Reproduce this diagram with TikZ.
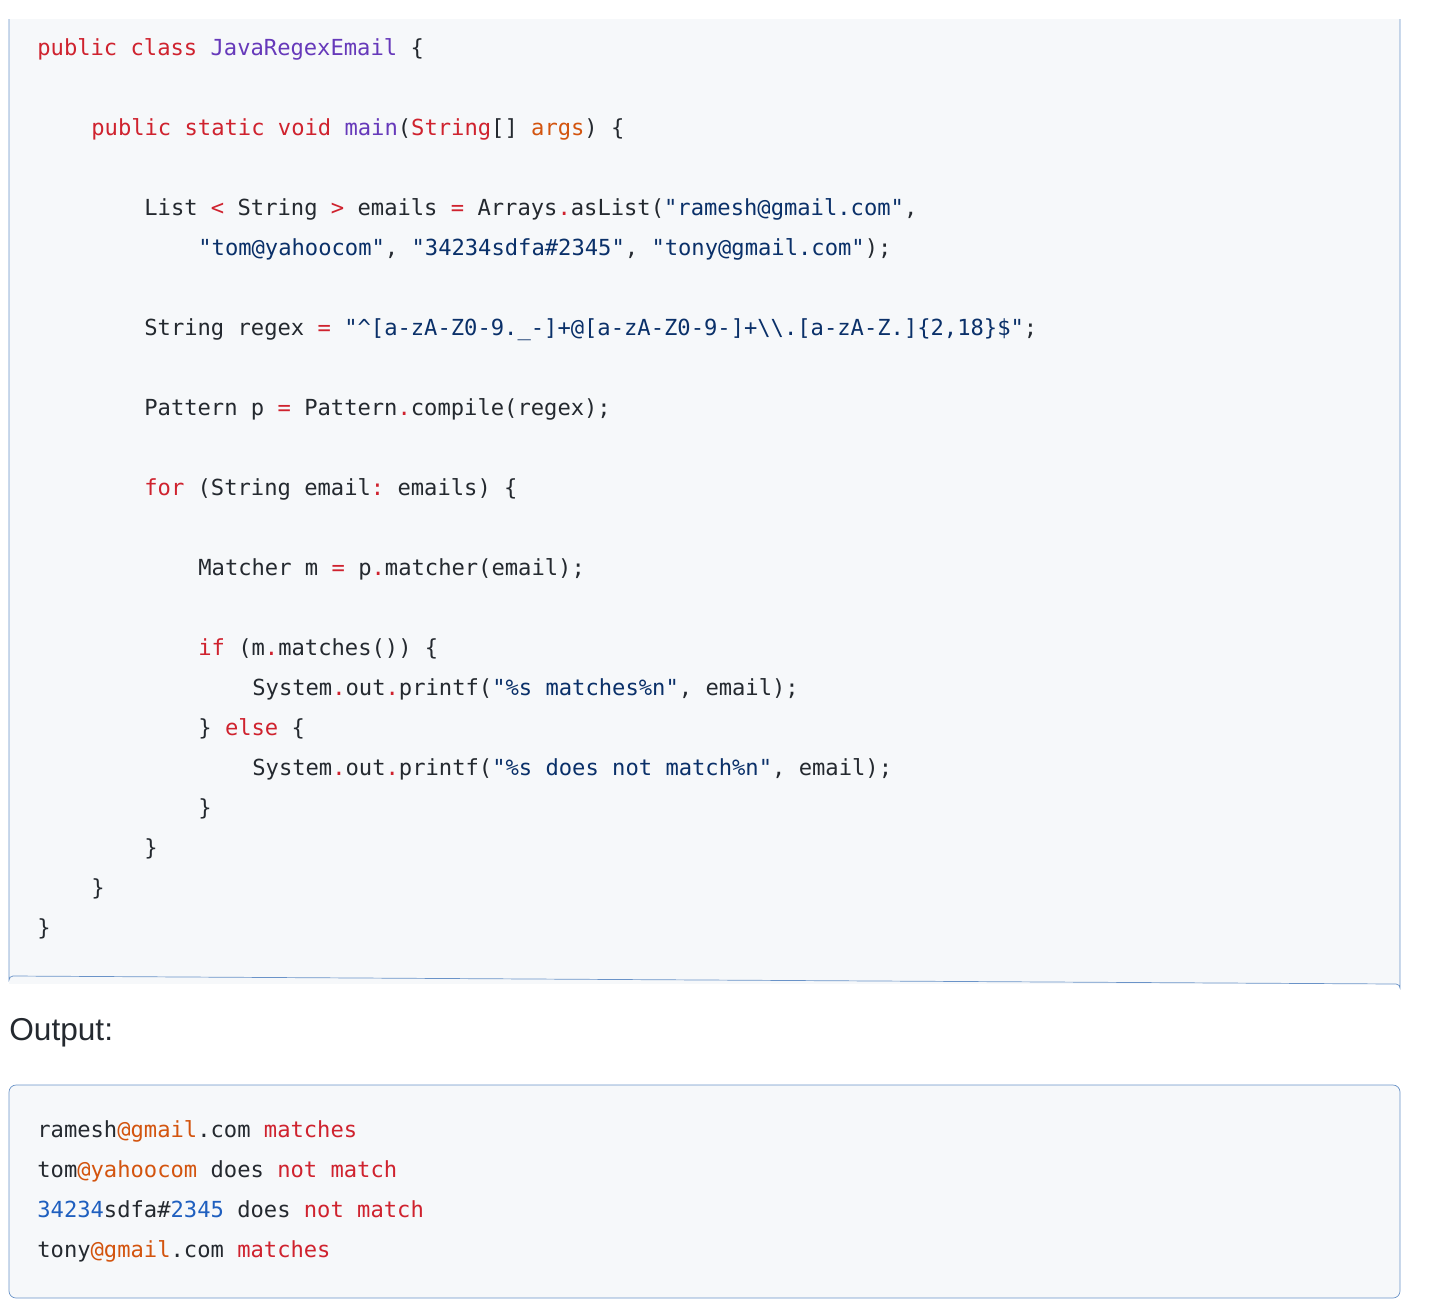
\documentclass[tikz,border=0pt]{standalone}
\usepackage{fontspec}
\setmainfont{Liberation Sans}
\setmonofont{DejaVu Sans Mono}
\definecolor{boxfill}{HTML}{F6F8FA}
\definecolor{boxline}{HTML}{6A93C8}
\definecolor{kwred}{HTML}{CF222E}
\definecolor{fnpurple}{HTML}{6639BA}
\definecolor{argorange}{HTML}{D3540E}
\definecolor{strblue}{HTML}{0A3069}
\definecolor{numblue}{HTML}{1F5FBF}
\definecolor{plain}{HTML}{24292F}
\newcommand{\kw}[1]{\textcolor{kwred}{#1}}
\newcommand{\fn}[1]{\textcolor{fnpurple}{#1}}
\newcommand{\ar}[1]{\textcolor{argorange}{#1}}
\newcommand{\str}[1]{\textcolor{strblue}{#1}}
\newcommand{\num}[1]{\textcolor{numblue}{#1}}
\begin{document}
\begin{tikzpicture}[x=0.02cm,y=-0.02cm,
  codeline/.style={anchor=mid west,inner sep=0pt,font=\ttfamily\fontsize{12.6}{14}\selectfont,text=plain}]
\useasboundingbox (0,0) rectangle (1436,1312);

% code box
\fill [boxfill] (9,19) rectangle (1400,984);
\draw [boxline] (9,19) -- (9,980) arc (180:270:4) -- (1396,984) arc (270:360:4) -- (1400,19);

\node [codeline] (c0) at (37,51) {\kw{public class} \fn{JavaRegexEmail} \{};
\node [codeline] (c1) at (91,131) {\kw{public static void} \fn{main}(\kw{String}[] \ar{args}) \{};
\node [codeline] (c2) at (144,211) {List \kw{<} String \kw{>} emails \kw{=} Arrays\kw{.}asList(\str{"ramesh@gmail.com"},};
\node [codeline] (c3) at (198,251) {\str{"tom@yahoocom"}, \str{"34234sdfa\#2345"}, \str{"tony@gmail.com"});};
\node [codeline] (c4) at (144,331) {String regex \kw{=} \str{"\textasciicircum[a-zA-Z0-9.\_-]+@[a-zA-Z0-9-]+\textbackslash\textbackslash.[a-zA-Z.]\{2,18\}\$"};};
\node [codeline] (c5) at (144,411) {Pattern p \kw{=} Pattern\kw{.}compile(regex);};
\node [codeline] (c6) at (144,491) {\kw{for} (String email\kw{:} emails) \{};
\node [codeline] (c7) at (198,571) {Matcher m \kw{=} p\kw{.}matcher(email);};
\node [codeline] (c8) at (198,651) {\kw{if} (m\kw{.}matches()) \{};
\node [codeline] (c9) at (252,691) {System\kw{.}out\kw{.}printf(\str{"\%s matches\%n"}, email);};
\node [codeline] (c10) at (198,731) {\} \kw{else} \{};
\node [codeline] (c11) at (252,771) {System\kw{.}out\kw{.}printf(\str{"\%s does not match\%n"}, email);};
\node [codeline] (c12) at (198,811) {\}};
\node [codeline] (c13) at (144,851) {\}};
\node [codeline] (c14) at (91,891) {\}};
\node [codeline] (c15) at (37,931) {\}};

\node [anchor=mid west,inner sep=0pt,font=\fontsize{18}{20}\selectfont,text=plain] (outlabel) at (9,1036) {Output:};

% output box
\draw [boxline,fill=boxfill,rounded corners=4] (9,1085) rectangle (1400,1298);
\node [codeline] (o0) at (37,1133) {ramesh\ar{@gmail}.com \kw{matches}};
\node [codeline] (o1) at (37,1173) {tom\ar{@yahoocom} does \kw{not match}};
\node [codeline] (o2) at (37,1213) {\num{34234}sdfa\#\num{2345} does \kw{not match}};
\node [codeline] (o3) at (37,1253) {tony\ar{@gmail}.com \kw{matches}};
\end{tikzpicture}
\end{document}
